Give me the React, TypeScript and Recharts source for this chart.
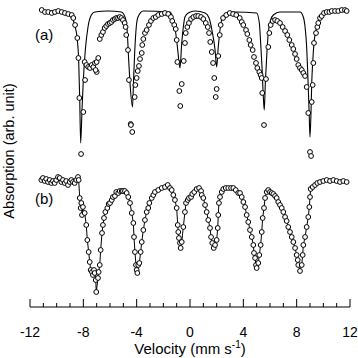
import React from "react";
import { ComposedChart, Line, Scatter, XAxis, YAxis } from "recharts";

// velocity ticks (mm/s), minor every 1, labelled every 4
const velTicks = [-12, -11, -10, -9, -8, -7, -6, -5, -4, -3, -2, -1, 0, 1, 2, 3, 4, 5, 6, 7, 8, 9, 10, 11, 12];

// spectrum (a): measured points
const scatterAVel = [
    -11.12, -10.88, -10.63, -10.37, -10.13, -9.88, -9.62, -9.38, -9.13, -8.87, -8.75, -8.62, -8.45, -8.37, -8.3, -8.17,
    -8.0, -7.87, -7.9, -7.77, -7.63, -7.5, -7.37, -7.25, -7.13, -7.0, -6.88, -7.0, -7.08, -6.77, -6.65, -6.53, -6.4,
    -6.28, -6.15, -6.02, -5.9, -5.78, -5.65, -5.53, -5.4, -5.27, -5.15, -5.03, -4.9, -4.83, -4.78, -4.65, -4.58, -4.45,
    -4.43, -4.33, -4.15, -4.1, -4.0, -3.92, -3.83, -3.75, -3.62, -3.58, -3.5, -3.38, -3.25, -3.08, -2.93, -2.75, -2.57,
    -2.38, -2.12, -1.88, -1.63, -1.43, -1.33, -1.18, -1.07, -1.0, -0.95, -0.8, -0.73, -0.62, -0.47, -0.38, -0.32, -0.2,
    -0.08, 0.08, 0.25, 0.45, 0.62, 0.83, 1.0, 1.18, 1.33, 1.43, 1.52, 1.63, 1.73, 1.82, 1.93, 2.0, 2.12, 2.23, 2.3, 2.48,
    2.72, 2.98, 3.23, 3.47, 3.73, 3.88, 4.0, 4.2, 4.3, 4.45, 4.55, 4.7, 4.8, 4.95, 5.05, 5.2, 5.3, 5.38, 5.42, 5.55, 5.7,
    5.87, 5.95, 6.05, 6.2, 6.38, 6.55, 6.75, 6.95, 7.13, 7.3, 7.45, 7.63, 7.75, 7.88, 8.0, 8.12, 8.25, 8.38, 8.5, 8.63,
    8.75, 8.87, 9.0, 9.08, 9.13, 9.2, 9.25, 9.3, 9.45, 9.55, 9.62, 9.75, 9.88, 10.05, 10.25, 10.45, 10.63, 10.88, 11.12,
    11.38, 11.62, 11.75
];
const scatterAAbs = [
    297, 295, 295, 294, 295, 296, 295, 294, 293, 292, 289, 282, 269, 249, 209, 153,
    195, 227, 245, 242, 240, 239, 242, 240, 244, 245, 249, 235, 237, 268, 272, 275, 279,
    281, 283, 284, 285, 287, 288, 289, 289, 290, 289, 287, 284, 280, 272, 257, 227, 183,
    182, 175, 210, 222, 229, 236, 241, 248, 254, 262, 268, 274, 277, 282, 286, 289, 290,
    292, 293, 294, 293, 290, 286, 282, 278, 267, 245, 216, 201, 223, 246, 264, 274, 280,
    284, 288, 290, 291, 291, 290, 288, 284, 280, 274, 265, 255, 244, 229, 210, 218, 251, 272, 282, 289,
    292, 294, 293, 292, 289, 285, 282, 277, 273, 267, 262, 257, 250, 244, 239, 235, 232, 229, 214, 182, 228,
    260, 274, 282, 286, 287, 286, 284, 280, 276, 272, 267, 262, 258, 253, 248, 242, 239, 237, 234, 231,
    220, 194, 155, 151, 205, 222, 244, 264, 274, 280, 284, 289, 291, 294, 295, 295, 296, 296, 296,
    297, 297, 296
];

// spectrum (a): fitted curve
const fitAVel = [
    -11.15, -9.65, -8.9, -8.65, -8.45, -8.35, -8.27, -8.2, -8.1, -8.0, -7.85, -7.65, -7.4, -7.15, -6.15, -5.15,
    -4.85, -4.7, -4.6, -4.5, -4.31, -4.24, -4.15, -4.03, -3.9, -3.5, -1.5, -1.25, -1.07, -0.92, -0.75, -0.62, -0.5,
    -0.38, -0.13, 0.38, 1.13, 1.43, 1.67, 1.88, 2.0, 2.12, 2.25, 2.42, 2.75, 3.38, 5.0, 5.2, 5.3, 5.4, 5.5, 5.57,
    5.65, 5.75, 5.87, 6.05, 6.25, 6.75, 8.25, 8.5, 8.63, 8.75, 8.83, 8.93, 9.0, 9.08, 9.13, 9.2, 9.3, 9.45, 9.62,
    9.88, 10.25, 11.0, 11.75
];
const fitAAbs = [
    297, 295, 290, 282, 267, 247, 207, 164, 197, 227, 257, 280, 292, 295, 296, 295,
    289, 274, 247, 224, 200, 224, 254, 280, 290, 296, 295, 287, 274, 257, 239, 264, 280,
    290, 294, 296, 294, 289, 275, 257, 240, 260, 277, 289, 294, 295, 294, 284, 264, 240, 210, 197,
    224, 250, 274, 287, 292, 295, 295, 290, 280, 260, 234, 197, 170, 197, 224, 244, 264, 277, 285,
    291, 294, 296, 298
];

// spectrum (b): measured points with fit through them
const specBVel = [
    -11.15, -11.03, -10.9, -10.78, -10.65, -10.52, -10.4, -10.28, -10.15, -10.03, -9.9, -9.77, -9.65, -9.53, -9.4,
    -9.28, -9.15, -9.02, -8.9, -8.78, -8.65, -8.53, -8.4, -8.35, -8.27, -8.2, -8.15, -8.1, -8.03, -7.9, -7.78, -7.7,
    -7.6, -7.52, -7.45, -7.35, -7.28, -7.2, -7.15, -7.07, -7.03, -6.9, -6.85, -6.77, -6.7, -6.6, -6.53, -6.45, -6.35,
    -6.2, -6.1, -6.0, -5.87, -5.78, -5.63, -5.53, -5.38, -5.27, -5.12, -5.03, -4.88, -4.75, -4.63, -4.5, -4.37, -4.25,
    -4.2, -4.13, -4.05, -4.0, -3.95, -3.88, -3.8, -3.7, -3.62, -3.5, -3.38, -3.25, -3.13, -3.05, -2.87, -2.75, -2.63,
    -2.38, -2.12, -1.88, -1.67, -1.5, -1.37, -1.25, -1.13, -1.0, -0.92, -0.88, -0.83, -0.75, -0.7, -0.62, -0.5, -0.38,
    -0.3, -0.17, -0.08, 0.08, 0.17, 0.32, 0.5, 0.68, 0.83, 0.88, 1.0, 1.13, 1.25, 1.37, 1.5, 1.58, 1.67, 1.78, 1.88,
    2.0, 2.08, 2.12, 2.17, 2.25, 2.38, 2.5, 2.68, 2.87, 3.08, 3.25, 3.43, 3.62, 3.75, 3.88, 4.0, 4.13, 4.25, 4.37,
    4.5, 4.63, 4.75, 4.8, 4.88, 4.95, 5.0, 5.12, 5.2, 5.3, 5.38, 5.45, 5.55, 5.63, 5.75, 5.87, 6.0, 6.13, 6.25, 6.38,
    6.5, 6.62, 6.75, 6.88, 7.0, 7.13, 7.25, 7.37, 7.5, 7.63, 7.75, 7.88, 8.0, 8.08, 8.12, 8.25, 8.38, 8.45, 8.5, 8.63,
    8.75, 8.87, 8.95, 9.0, 9.05, 9.2, 9.38, 9.55, 9.75, 10.0, 10.25, 10.5, 10.75, 11.0, 11.25, 11.5, 11.75
];
const specBAbs = [
    127, 129, 126, 128, 125, 127, 124, 126, 124, 127, 130, 129, 125, 127, 124,
    126, 122, 125, 127, 125, 124, 127, 130, 127, 109, 99, 104, 92, 100, 94, 82, 67,
    55, 45, 37, 35, 32, 37, 34, 27, 15, 29, 35, 42, 57, 74, 82, 89, 95,
    99, 103, 104, 107, 110, 111, 115, 114, 116, 116, 116, 116, 114, 110, 104, 94, 84,
    70, 55, 42, 37, 34, 42, 44, 55, 65, 77, 87, 95, 99, 104, 109, 112, 115,
    117, 119, 120, 122, 119, 117, 112, 107, 99, 82, 75, 69, 64, 59, 65, 80, 95,
    104, 107, 109, 110, 113, 115, 118, 119, 116, 112, 109, 102, 95, 87, 79, 70, 64, 59, 62,
    67, 79, 92, 104, 110, 115, 118, 119, 119, 119, 119, 117, 114, 114, 110, 105, 100, 92, 85,
    77, 70, 62, 54, 49, 42, 39, 44, 52, 62, 75, 89, 99, 109, 115, 117, 115, 114, 113, 111,
    109, 105, 102, 99, 95, 90, 86, 80, 75, 70, 65, 59, 52, 47, 42, 36, 42, 52, 62, 70,
    80, 90, 100, 110, 118, 120, 122, 124, 125, 126, 127, 126, 127, 126, 125, 126, 125
];

const scatterA = scatterAVel.map((v, i) => ({ v, a: scatterAAbs[i] }));
const fitA = fitAVel.map((v, i) => ({ v, a: fitAAbs[i] }));
const specB = specBVel.map((v, i) => ({ v, b: specBAbs[i] }));

const font = "'Liberation Sans', Arial, Helvetica, sans-serif";

const BottomTick = (props) => {
    const { x, y, payload } = props;
    const major = payload.value % 4 === 0;
    return (
        <g>
            <line x1={x} x2={x} y1={y} y2={y - (major ? 8 : 4)} stroke="#000" strokeWidth={1} />
            {major && (
                <text x={x} y={y + 30} textAnchor="middle" fontSize={14} fontFamily={font} fill="#000">
                    {payload.value}
                </text>
            )}
        </g>
    );
};

const TopTick = (props) => {
    const { x, y } = props;
    return <line x1={x} x2={x} y1={y} y2={y + 8} stroke="#000" strokeWidth={1} />;
};

const OpenCircle = (props) => {
    const { cx, cy } = props;
    if (cx == null || cy == null) return null;
    return <circle cx={cx} cy={cy} r={2.4} fill="#fff" stroke="#000" strokeWidth={1} />;
};

export default function App() {
    return (
        <div style={{ position: "absolute", left: 0, top: -10, width: 358, height: 368, background: "#fff" }}>
            <ComposedChart width={358} height={368} margin={{ top: 8, right: 8, bottom: 11, left: 30 }}>
                <XAxis
                    xAxisId="b"
                    type="number"
                    dataKey="v"
                    domain={[-12, 12]}
                    ticks={velTicks}
                    interval={0}
                    allowDataOverflow
                    tick={<BottomTick />}
                    tickLine={false}
                    tickSize={0}
                    tickMargin={0}
                    height={40}
                    axisLine={{ stroke: "#000", strokeWidth: 1.2 }}
                    label={{
                        content: ({ viewBox }) => (
                            <text
                                x={viewBox.x + viewBox.width / 2}
                                y={viewBox.y + 47}
                                textAnchor="middle"
                                fontSize={15}
                                fontFamily={font}
                                fill="#000"
                            >
                                Velocity (mm s<tspan dy={-6} fontSize={10}>-1</tspan><tspan dy={6}>)</tspan>
                            </text>
                        )
                    }}
                />
                <XAxis
                    xAxisId="t"
                    orientation="top"
                    type="number"
                    dataKey="v"
                    domain={[-12, 12]}
                    ticks={velTicks}
                    interval={0}
                    allowDataOverflow
                    tick={<TopTick />}
                    tickLine={false}
                    tickSize={0}
                    tickMargin={0}
                    height={0}
                    axisLine={{ stroke: "#000" }}
                />
                <YAxis
                    yAxisId="l"
                    type="number"
                    domain={[0, 309]}
                    allowDataOverflow
                    width={0}
                    tick={false}
                    tickLine={false}
                    axisLine={{ stroke: "#000", strokeWidth: 1.2 }}
                />
                <YAxis
                    yAxisId="r"
                    orientation="right"
                    type="number"
                    domain={[0, 309]}
                    width={0}
                    tick={false}
                    tickLine={false}
                    axisLine={{ stroke: "#000", strokeWidth: 2.5 }}
                />
                <Line
                    data={fitA}
                    xAxisId="b"
                    yAxisId="l"
                    dataKey="a"
                    type="monotone"
                    stroke="#000"
                    strokeWidth={1.1}
                    dot={false}
                    isAnimationActive={false}
                />
                <Scatter
                    data={scatterA}
                    xAxisId="b"
                    yAxisId="l"
                    dataKey="a"
                    shape={<OpenCircle />}
                    isAnimationActive={false}
                />
                <Line
                    data={specB}
                    xAxisId="b"
                    yAxisId="l"
                    dataKey="b"
                    type="linear"
                    stroke="#000"
                    strokeWidth={1}
                    dot={<OpenCircle />}
                    isAnimationActive={false}
                />
            </ComposedChart>
            <div
                style={{
                    position: "absolute",
                    left: 8.5 - 100,
                    top: 161 - 9,
                    width: 200,
                    height: 18,
                    lineHeight: "18px",
                    textAlign: "center",
                    transform: "rotate(-90deg)",
                    fontFamily: font,
                    fontSize: 14.5,
                    whiteSpace: "nowrap"
                }}
            >
                Absorption (arb. unit)
            </div>
            <div style={{ position: "absolute", left: 35, top: 37, fontFamily: font, fontSize: 15, lineHeight: "15px" }}>(a)</div>
            <div style={{ position: "absolute", left: 35, top: 201, fontFamily: font, fontSize: 15, lineHeight: "15px" }}>(b)</div>
        </div>
    );
}
